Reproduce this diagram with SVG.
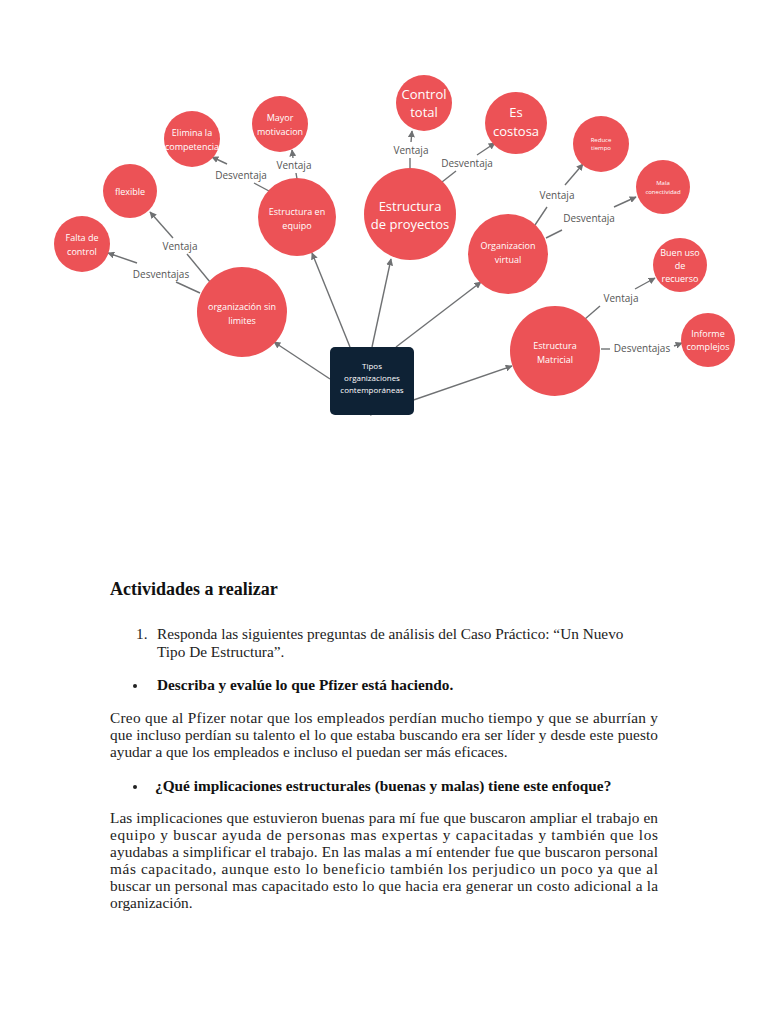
<svg xmlns="http://www.w3.org/2000/svg" width="768" height="1024" viewBox="0 0 768 1024">
<defs>
<marker id="arr" viewBox="0 0 10 10" refX="9" refY="5" markerWidth="7" markerHeight="7" markerUnits="userSpaceOnUse" orient="auto">
<path d="M0,0 L10,5 L0,10 z" fill="#6f7173"/>
</marker>
<style>
.c{fill:#ec5256;}
.ct{fill:#ffffff;font-family:"Open Sans","Noto Sans",sans-serif;text-anchor:middle;}
.s9{font-size:9px;}
.s13{font-size:13px;}
.s6{font-size:6px;}
.ln{stroke:#6f7173;stroke-width:1.4;fill:none;}
.la{stroke:#6f7173;stroke-width:1.4;fill:none;marker-end:url(#arr);}
.lbl{fill:#555555;font-family:"Open Sans","Noto Sans",sans-serif;font-size:10px;text-anchor:middle;}
.body{font-family:"Liberation Serif","Times New Roman",serif;font-size:15.3px;fill:#222222;}
.b{font-weight:bold;fill:#111111;}
</style>
</defs>
<rect width="768" height="1024" fill="#ffffff"/>

<g id="connectors">
<line class="la" x1="330" y1="379" x2="274" y2="342"/>
<line class="la" x1="350" y1="347" x2="312" y2="253"/>
<line class="la" x1="372" y1="347" x2="391" y2="259"/>
<line class="la" x1="396" y1="347" x2="481" y2="282"/>
<line class="la" x1="370" y1="415" x2="512" y2="366"/>
<line class="ln" x1="200" y1="293" x2="176" y2="282"/>
<line class="la" x1="137" y1="263" x2="108" y2="253"/>
<line class="ln" x1="210" y1="282" x2="187" y2="254"/>
<line class="la" x1="173" y1="238" x2="150" y2="212"/>
<line class="ln" x1="269" y1="191" x2="254" y2="183"/>
<line class="la" x1="227" y1="164" x2="212" y2="157"/>
<line class="ln" x1="297" y1="179" x2="296" y2="173"/>
<line class="la" x1="293" y1="158" x2="292" y2="150"/>
<line class="ln" x1="410" y1="169" x2="410" y2="158"/>
<line class="la" x1="411" y1="142" x2="412" y2="131"/>
<line class="ln" x1="442" y1="182" x2="456" y2="171"/>
<line class="la" x1="477" y1="155" x2="495" y2="143"/>
<line class="ln" x1="535" y1="225" x2="547" y2="207"/>
<line class="la" x1="565" y1="185" x2="583" y2="164"/>
<line class="ln" x1="546" y1="238" x2="562" y2="230"/>
<line class="la" x1="614" y1="207" x2="636" y2="197"/>
<line class="ln" x1="585" y1="319" x2="600" y2="306"/>
<line class="la" x1="635" y1="289" x2="655" y2="278"/>
<line class="ln" x1="601" y1="349" x2="610" y2="349"/>
<line class="la" x1="674" y1="346" x2="682" y2="343"/>
</g>

<g id="edge-labels">
<text class="lbl" x="161" y="278">Desventajas</text>
<text class="lbl" x="180" y="250">Ventaja</text>
<text class="lbl" x="241" y="179">Desventaja</text>
<text class="lbl" x="294" y="169">Ventaja</text>
<text class="lbl" x="411" y="154">Ventaja</text>
<text class="lbl" x="467" y="167">Desventaja</text>
<text class="lbl" x="557" y="199">Ventaja</text>
<text class="lbl" x="589" y="222">Desventaja</text>
<text class="lbl" x="621" y="302">Ventaja</text>
<text class="lbl" x="642" y="352">Desventajas</text>
</g>

<g id="tipos">
<rect x="330" y="347" width="84" height="68" rx="5" fill="#0e2235"/>
<text class="ct" x="372" y="369" font-size="8">Tipos</text>
<text class="ct" x="372" y="381" font-size="8">organizaciones</text>
<text class="ct" x="372" y="393" font-size="8">contemporáneas</text>
</g>

<g id="org-sin-limites">
<circle class="c" cx="242" cy="312" r="45"/>
<text class="ct s9" x="242" y="310">organización sin</text>
<text class="ct s9" x="242" y="324">limites</text>
</g>
<g id="falta-de-control">
<circle class="c" cx="82" cy="244" r="28"/>
<text class="ct s9" x="82" y="241">Falta de</text>
<text class="ct s9" x="82" y="255">control</text>
</g>
<g id="flexible">
<circle class="c" cx="130" cy="191" r="27"/>
<text class="ct s9" x="130" y="195">flexible</text>
</g>
<g id="estructura-equipo">
<circle class="c" cx="297" cy="217" r="39"/>
<text class="ct s9" x="297" y="215">Estructura en</text>
<text class="ct s9" x="297" y="229">equipo</text>
</g>
<g id="elimina">
<circle class="c" cx="192" cy="139" r="28"/>
<text class="ct s9" x="192" y="136">Elimina la</text>
<text class="ct s9" x="192" y="150">competencia</text>
</g>
<g id="mayor-motivacion">
<circle class="c" cx="280" cy="124" r="28"/>
<text class="ct s9" x="280" y="121">Mayor</text>
<text class="ct s9" x="280" y="135">motivacion</text>
</g>
<g id="estructura-proyectos">
<circle class="c" cx="410" cy="214" r="46"/>
<text class="ct s13" x="410" y="211">Estructura</text>
<text class="ct s13" x="410" y="229">de proyectos</text>
</g>
<g id="control-total">
<circle class="c" cx="424" cy="103" r="28"/>
<text class="ct s13" x="424" y="99">Control</text>
<text class="ct s13" x="424" y="117">total</text>
</g>
<g id="es-costosa">
<circle class="c" cx="516" cy="123" r="31"/>
<text class="ct s13" x="516" y="117">Es</text>
<text class="ct s13" x="516" y="136">costosa</text>
</g>
<g id="org-virtual">
<circle class="c" cx="508" cy="254" r="40"/>
<text class="ct s9" x="508" y="249">Organizacion</text>
<text class="ct s9" x="508" y="263">virtual</text>
</g>
<g id="reduce-tiempo">
<circle class="c" cx="601" cy="144" r="28"/>
<text class="ct s6" x="601" y="142">Reduce</text>
<text class="ct s6" x="601" y="150">tiempo</text>
</g>
<g id="mala-conectividad">
<circle class="c" cx="663" cy="187" r="27"/>
<text class="ct s6" x="663" y="185">Mala</text>
<text class="ct s6" x="663" y="194">conectividad</text>
</g>
<g id="estructura-matricial">
<circle class="c" cx="555" cy="351" r="45"/>
<text class="ct s9" x="555" y="349">Estructura</text>
<text class="ct s9" x="555" y="363">Matricial</text>
</g>
<g id="buen-uso">
<circle class="c" cx="680" cy="265" r="27"/>
<text class="ct s9" x="680" y="256">Buen uso</text>
<text class="ct s9" x="680" y="269">de</text>
<text class="ct s9" x="680" y="282">recuerso</text>
</g>
<g id="informe-complejos">
<circle class="c" cx="708" cy="340" r="27"/>
<text class="ct s9" x="708" y="337">Informe</text>
<text class="ct s9" x="708" y="350">complejos</text>
</g>

<g id="document-text">
<text x="110" y="595" font-family="Liberation Serif,'Times New Roman',serif" font-size="18" font-weight="bold" fill="#111111">Actividades a realizar</text>
<text class="body" x="136" y="639">1.</text>
<text class="body" x="157" y="639">Responda las siguientes preguntas de análisis del Caso Práctico: “Un Nuevo</text>
<text class="body" x="157" y="657">Tipo De Estructura”.</text>
<circle cx="135" cy="686" r="2" fill="#222222"/>
<text class="body b" x="157" y="690">Describa y evalúe lo que Pfizer está haciendo.</text>
<text class="body" x="110" y="723" textLength="548" lengthAdjust="spacing">Creo que al Pfizer notar que los empleados perdían mucho tiempo y que se aburrían y</text>
<text class="body" x="110" y="740" textLength="548" lengthAdjust="spacing">que incluso perdían su talento el lo que estaba buscando era ser líder y desde este puesto</text>
<text class="body" x="110" y="757">ayudar a que los empleados e incluso el puedan ser más eficaces.</text>
<circle cx="135" cy="787" r="2" fill="#222222"/>
<text class="body b" x="155" y="791">¿Qué implicaciones estructurales (buenas y malas) tiene este enfoque?</text>
<text class="body" x="110" y="823" textLength="548" lengthAdjust="spacing">Las implicaciones que estuvieron buenas para mí fue que buscaron ampliar el trabajo en</text>
<text class="body" x="110" y="840" textLength="548" lengthAdjust="spacing">equipo y buscar ayuda de personas mas expertas y capacitadas y también que los</text>
<text class="body" x="110" y="857" textLength="548" lengthAdjust="spacing">ayudabas a simplificar el trabajo. En las malas a mí entender fue que buscaron personal</text>
<text class="body" x="110" y="874" textLength="548" lengthAdjust="spacing">más capacitado, aunque esto lo beneficio también los perjudico un poco ya que al</text>
<text class="body" x="110" y="891" textLength="548" lengthAdjust="spacing">buscar un personal mas capacitado esto lo que hacia era generar un costo adicional a la</text>
<text class="body" x="110" y="908">organización.</text>
</g>
</svg>
